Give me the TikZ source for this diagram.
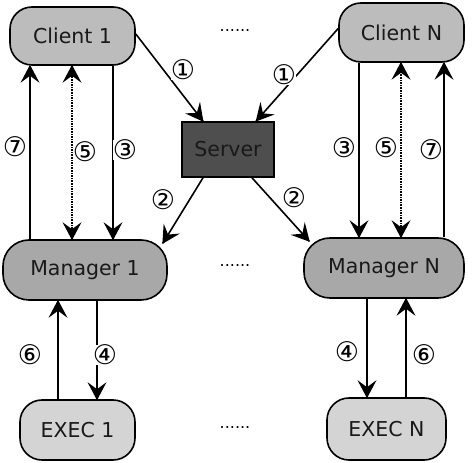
\documentclass[tikz,border=0pt]{standalone}
\usepackage{fontspec}
\setmainfont{DejaVu Sans}
\usetikzlibrary{arrows.meta,decorations.markings}
\definecolor{clientgray}{RGB}{188,188,188}
\definecolor{mangray}{RGB}{168,168,168}
\definecolor{execgray}{RGB}{212,212,212}
\definecolor{servgray}{RGB}{78,78,78}
\begin{document}
\begin{tikzpicture}[x=1pt,y=1pt,
  box/.style={draw=black,line width=1.6pt,rounded corners=22pt,inner sep=0pt,
    font=\fontsize{20.5}{22}\selectfont,text=black!90},
  endhead/.style={postaction={decorate,decoration={markings,
    mark=at position 1 with {\fill[black] (1pt,0pt) -- (-17pt,9.5pt) -- (-10pt,0pt) -- (-17pt,-9.5pt) -- cycle;}}}},
  starthead/.style={postaction={decorate,decoration={markings,
    mark=at position 0 with {\fill[black] (-1pt,0pt) -- (17pt,9.5pt) -- (10pt,0pt) -- (17pt,-9.5pt) -- cycle;}}}},
  arr/.style={line width=1.6pt,endhead},
  darr/.style={line width=1.6pt,densely dotted,endhead,starthead},
  num/.style={font=\fontsize{27}{27}\selectfont,inner sep=0pt,fill=white},
  dots/.style={font=\fontsize{16}{16}\selectfont}]
\useasboundingbox (0,0) rectangle (474,463);
% nodes
\node[box,fill=clientgray,minimum width=125pt,minimum height=58pt] (c1) at (72.5,427) {Client 1};
\node[box,fill=clientgray,minimum width=125pt,minimum height=59pt] (cN) at (401.5,430.5) {Client N};
\node[draw=black,line width=1.6pt,fill=servgray,minimum width=92pt,minimum height=55pt,inner sep=0pt,
  font=\fontsize{20.5}{22}\selectfont,text=black!90] (srv) at (228,313.5) {Server};
\node[box,fill=mangray,minimum width=164pt,minimum height=60pt,rounded corners=26pt] (m1) at (85,193) {Manager 1};
\node[box,fill=mangray,minimum width=160pt,minimum height=60pt,rounded corners=26pt] (mN) at (384,195) {Manager N};
\node[box,fill=execgray,minimum width=115pt,minimum height=60pt] (e1) at (77.5,33) {EXEC 1};
\node[box,fill=execgray,minimum width=119pt,minimum height=62pt] (eN) at (386.5,34) {EXEC N};
% dots
\node[dots] (d1) at (235,432) {......};
\node[dots] (d2) at (235,197) {......};
\node[dots] (d3) at (235,35) {......};
% x positions
\coordinate (xa) at (30,0);
\coordinate (xb) at (72,0);
\coordinate (xc) at (113,0);
\coordinate (xd) at (359,0);
\coordinate (xe) at (401,0);
\coordinate (xf) at (444,0);
\coordinate (xg) at (58,0);
\coordinate (xh) at (97,0);
\coordinate (xi) at (367,0);
\coordinate (xj) at (406,0);
% client - server
\draw[arr] ([yshift=2pt]c1.east) -- ([xshift=-25pt]srv.north);
\draw[arr] ([yshift=4pt]cN.west) -- ([xshift=28pt]srv.north);
\draw[arr] ([xshift=-25pt]srv.south) -- ([xshift=-5pt,yshift=-4pt]m1.north east);
\draw[arr] ([xshift=24pt]srv.south) -- ([xshift=6pt,yshift=-4pt]mN.north west);
% client - manager left
\draw[arr] (m1.north -| xa) -- (c1.south -| xa);
\draw[darr] (m1.north -| xb) -- (c1.south -| xb);
\draw[arr] (c1.south -| xc) -- (m1.north -| xc);
% client - manager right
\draw[arr] (cN.south -| xd) -- (mN.north -| xd);
\draw[darr] (mN.north -| xe) -- (cN.south -| xe);
\draw[arr] (mN.north -| xf) -- (cN.south -| xf);
% manager - exec
\draw[arr] (e1.north -| xg) -- (m1.south -| xg);
\draw[arr] (m1.south -| xh) -- (e1.north -| xh);
\draw[arr] (mN.south -| xi) -- (eN.north -| xi);
\draw[arr] (eN.north -| xj) -- (mN.south -| xj);
% labels
\node[num] (l1a) at (183,393) {①};
\node[num] (l1b) at (284,388) {①};
\node[num] (l2a) at (163,263) {②};
\node[num] (l2b) at (294,265) {②};
\node[num] (l3a) at (125,313) {③};
\node[num] (l3b) at (344,315) {③};
\node[num] (l5a) at (85,311) {⑤};
\node[num] (l5b) at (386,315) {⑤};
\node[num] (l7a) at (15,316) {⑦};
\node[num] (l7b) at (431,313) {⑦};
\node[num] (l6a) at (30,108) {⑥};
\node[num] (l6b) at (424,108) {⑥};
\node[num] (l4a) at (105,108) {④};
\node[num] (l4b) at (347,111) {④};
\end{tikzpicture}
\end{document}
